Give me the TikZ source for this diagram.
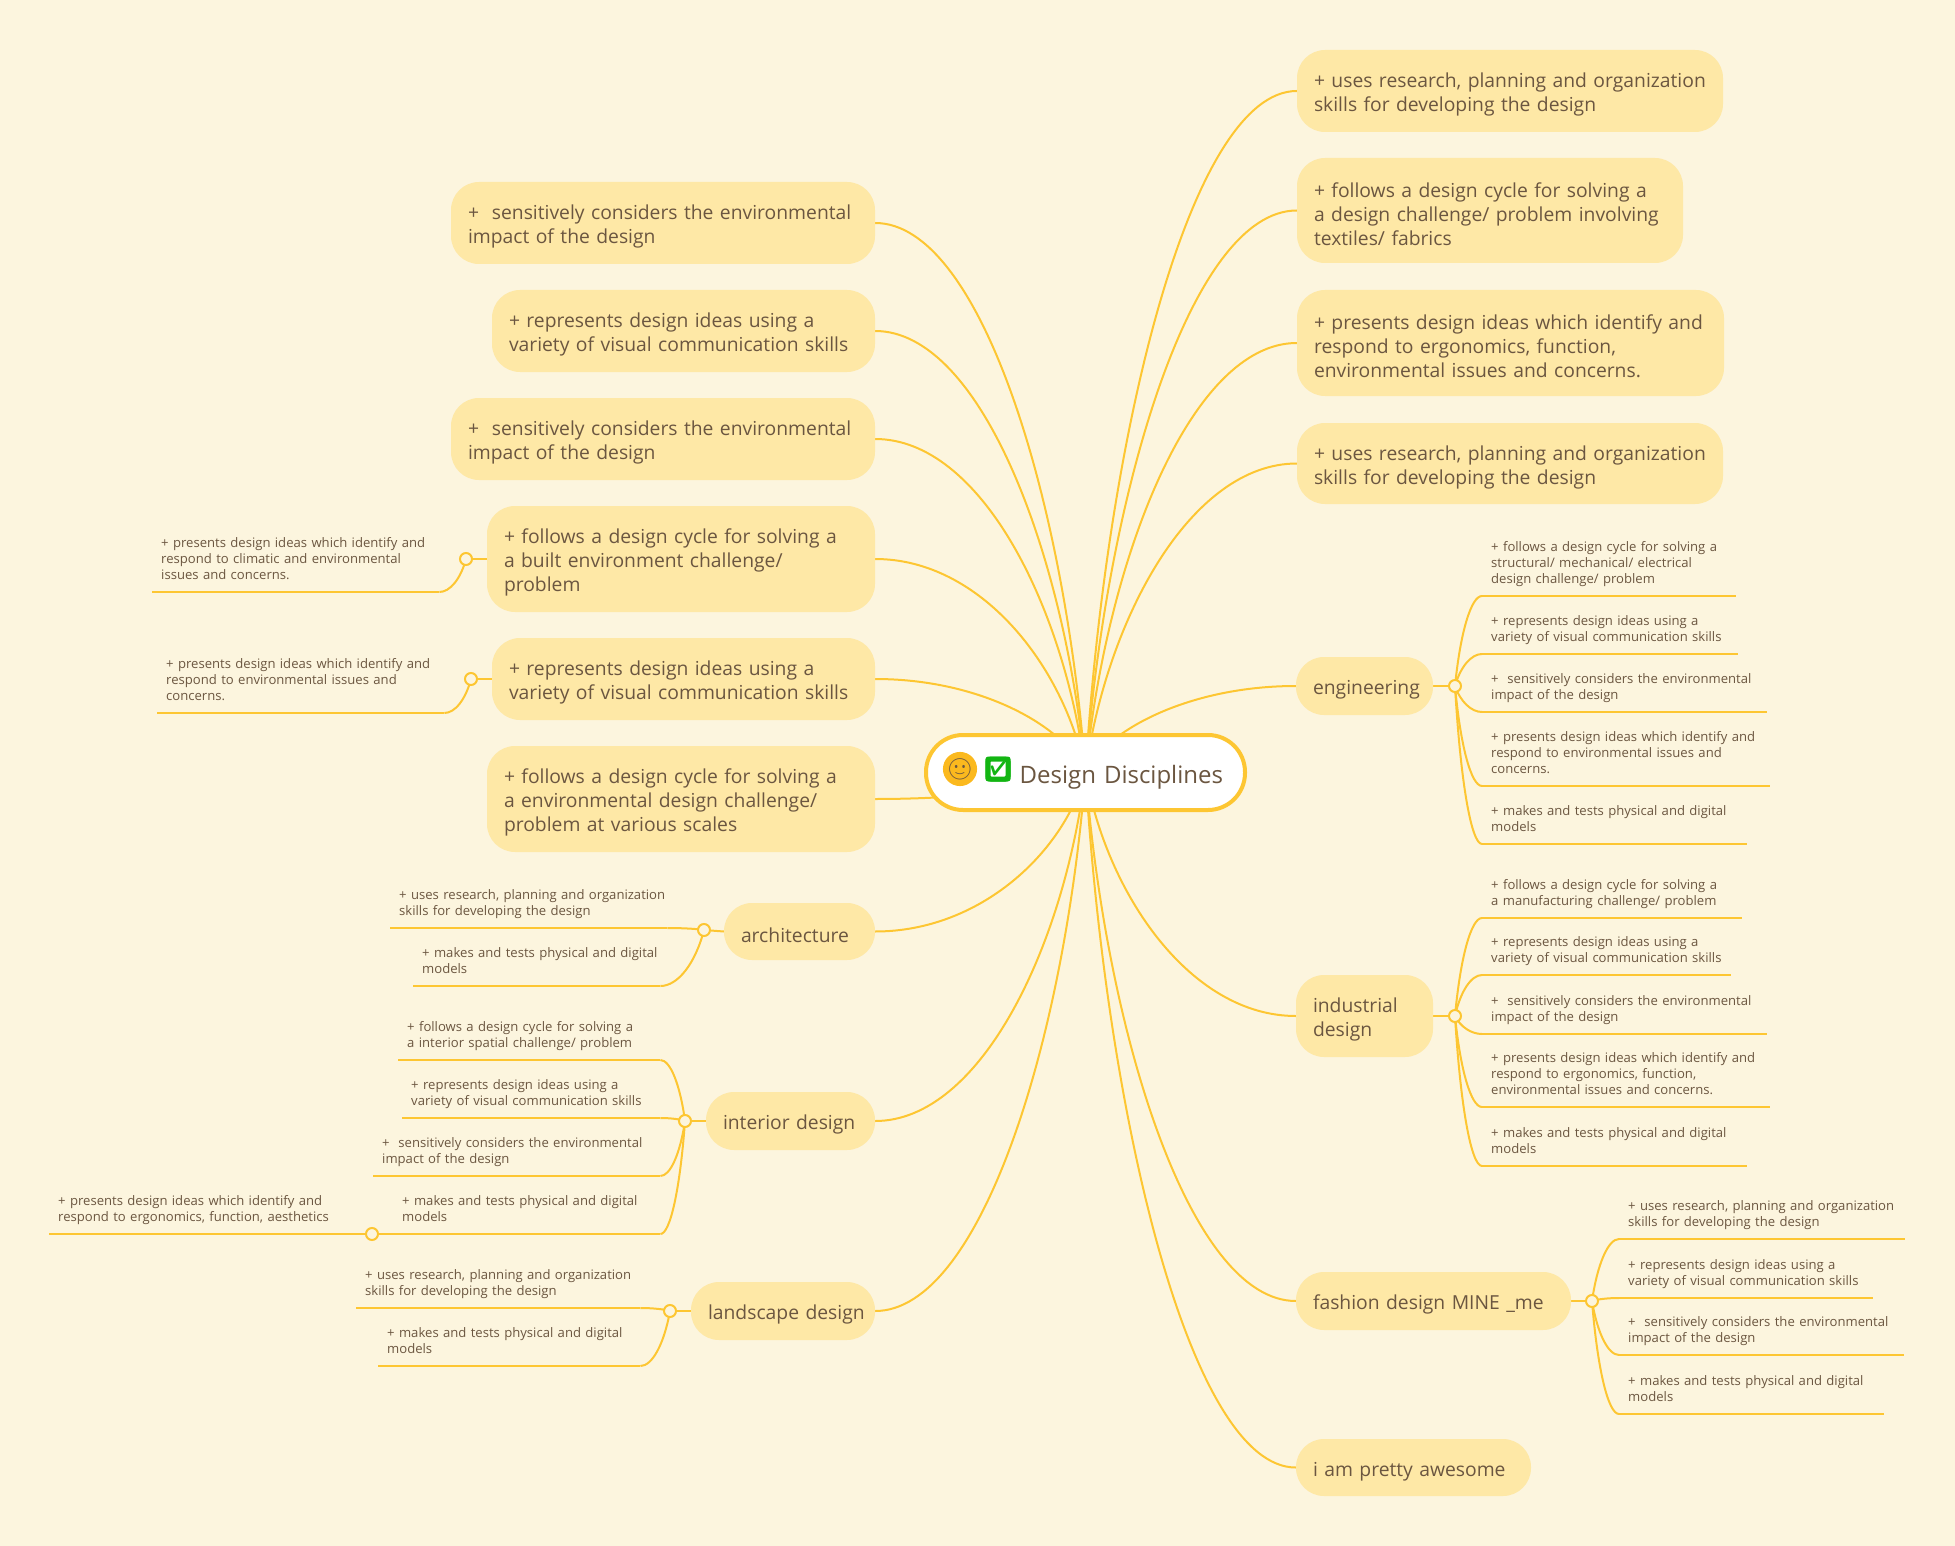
\documentclass[tikz,border=0pt]{standalone}
\usepackage{fontspec}
\setmainfont{Open Sans}
\newfontfamily\emojifont{Noto Emoji}
\usetikzlibrary{calc,backgrounds}
\definecolor{bgc}{HTML}{FCF5DE}
\definecolor{fillc}{HTML}{FEE8A6}
\definecolor{linec}{HTML}{FDC632}
\definecolor{textc}{HTML}{6B5640}
\definecolor{smilec}{HTML}{FBB91E}
\definecolor{checkc}{HTML}{12B512}
\tikzset{
  bignode/.style={fill=fillc,rounded corners=28pt,inner xsep=17pt,inner ysep=0pt,text=textc,align=left,
    font=\fontsize{19.3}{24}\selectfont},
  subnode/.style={anchor=south west,inner xsep=9pt,inner ysep=8pt,text=textc,align=left,
    font=\fontsize{13.1}{16}\selectfont},
  edge/.style={draw=linec,line width=2pt},
  rule/.style={draw=linec,line width=2pt},
  junc/.style={circle,draw=linec,line width=2pt,fill=bgc,minimum size=12pt,inner sep=0pt},
}
\newcommand{\bnode}[6]{\node[bignode,minimum width={#4-#2},minimum height={#5-#3},text width={#4-#2-34}] (#1) at ({(#2+#4)/2},{(#3+#5)/2}) {\rlap{\parbox{\dimexpr #4pt-#2pt\relax}{\raggedright\vspace{7.5pt}#6}}};}
\newcommand{\snode}[5]{\node[subnode,minimum width={#3-#2},text width={#3-#2-18}] (#1) at (#2,#4) {\rlap{\parbox{\dimexpr #3pt-#2pt\relax}{\raggedright #5\strut}}};
  \begin{pgfonlayer}{background}\draw[rule] (#1.south west) -- (#1.south east);\end{pgfonlayer}}
\newcommand{\conn}[5]{\begin{pgfonlayer}{background}\draw[edge] let \p1=(#1),\p2=(#2) in (\p1) .. controls ({\x1+#3*(\x2-\x1)},{\y1+#4*(\y2-\y1)}) and ({\x2-#5*(\x2-\x1)},{\y2}) .. (\p2);\end{pgfonlayer}}
\newcommand{\mainconn}[2]{\conn{#1}{#2}{0.1}{0.5}{0.5}}
\newcommand{\subconn}[2]{\conn{#1}{#2}{0.2}{0.6}{0.4}}
\newcommand{\straight}[2]{\begin{pgfonlayer}{background}\draw[edge] (#1) -- (#2);\end{pgfonlayer}}
\newcommand{\dsp}{+\ \ }
\begin{document}
\begin{tikzpicture}[x=1pt,y=-1pt]
\begin{pgfonlayer}{background}
\fill[bgc] (0,0) rectangle (1955,1546);
\end{pgfonlayer}
\useasboundingbox (0,0) rectangle (1955,1546);
% centre
\node[fill=white,draw=linec,line width=4pt,rounded corners=37pt,minimum width=319pt,minimum height=75pt,
  text width=275pt,inner xsep=22pt,align=right,text=textc,font=\fontsize{24}{30}\selectfont] (c) at (1085.5,772.5) {\rule{0pt}{28pt}Design Disciplines};
\node[circle,fill=smilec,minimum size=24pt,inner sep=0pt,text=textc,font=\emojifont\fontsize{21}{24}\selectfont] (smile) at (960,769) {🙂};
\node[fill=checkc,rounded corners=3pt,minimum size=25pt,inner sep=0pt,text=white,font=\emojifont\fontsize{20}{25}\selectfont] (check) at (998,769) {✅};
\draw[draw=checkc,line width=5pt,rounded corners=3pt] ($(check.center)+(-10,-10)$) rectangle ($(check.center)+(10,10)$);
% left main
\bnode{la}{451}{182}{875}{264}{\dsp sensitively considers the environmental\\impact of the design}
\bnode{lb}{492}{290}{875}{372}{+ represents design ideas using a\\variety of visual communication skills}
\bnode{lc}{451}{398}{875}{480}{\dsp sensitively considers the environmental\\impact of the design}
\bnode{ld}{487}{506}{875}{612}{+ follows a design cycle for solving a\\a built environment challenge/\\problem}
\bnode{le}{492}{638}{875}{720}{+ represents design ideas using a\\variety of visual communication skills}
\bnode{lf}{487}{746}{875}{852}{+ follows a design cycle for solving a\\a environmental design challenge/\\problem at various scales}
\bnode{arch}{724}{903}{875}{960}{architecture}
\bnode{inter}{706}{1092}{875}{1150}{interior design}
\bnode{land}{691}{1282}{875}{1340}{landscape design}
% right main
\bnode{ra}{1297}{50}{1723}{132}{+ uses research, planning and organization\\skills for developing the design}
\bnode{rb}{1297}{158}{1683}{263}{+ follows a design cycle for solving a\\a design challenge/ problem involving\\textiles/ fabrics}
\bnode{rc}{1297}{290}{1724}{396}{+ presents design ideas which identify and\\respond to ergonomics, function,\\environmental issues and concerns.}
\bnode{rd}{1297}{423}{1723}{504}{+ uses research, planning and organization\\skills for developing the design}
\bnode{eng}{1296}{657}{1433}{715}{engineering}
\bnode{ind}{1296}{975}{1433}{1057}{industrial\\design}
\bnode{fash}{1296}{1272}{1571}{1330}{fashion design MINE \_me}
\bnode{aw}{1296}{1439}{1531}{1496}{i am pretty awesome}
% main connectors
\mainconn{c.center}{la.east}\mainconn{c.center}{lb.east}\mainconn{c.center}{lc.east}
\mainconn{c.center}{ld.east}\mainconn{c.center}{le.east}\mainconn{c.center}{lf.east}
\mainconn{c.center}{arch.east}\mainconn{c.center}{inter.east}\mainconn{c.center}{land.east}
\mainconn{c.center}{ra.west}\mainconn{c.center}{rb.west}\mainconn{c.center}{rc.west}\mainconn{c.center}{rd.west}
\mainconn{c.center}{eng.west}\mainconn{c.center}{ind.west}\mainconn{c.center}{fash.west}\mainconn{c.center}{aw.west}
% engineering
\node[junc] (je) at (1455,686) {};
\straight{eng.east}{je}
\snode{ea}{1482}{1736}{596}{+ follows a design cycle for solving a\\structural/ mechanical/ electrical\\design challenge/ problem}
\snode{eb}{1482}{1738}{654}{+ represents design ideas using a\\variety of visual communication skills}
\snode{ec}{1482}{1767}{712}{\dsp sensitively considers the environmental\\impact of the design}
\snode{ed}{1482}{1770}{786}{+ presents design ideas which identify and\\respond to environmental issues and\\concerns.}
\snode{ee}{1482}{1747}{844}{+ makes and tests physical and digital\\models}
\subconn{je}{ea.south west}\subconn{je}{eb.south west}\subconn{je}{ec.south west}\subconn{je}{ed.south west}\subconn{je}{ee.south west}
% industrial
\node[junc] (ji) at (1455,1016) {};
\straight{ind.east}{ji}
\snode{ia}{1482}{1742}{918}{+ follows a design cycle for solving a\\a manufacturing challenge/ problem}
\snode{ib}{1482}{1731}{975}{+ represents design ideas using a\\variety of visual communication skills}
\snode{ic}{1482}{1767}{1034}{\dsp sensitively considers the environmental\\impact of the design}
\snode{id}{1482}{1770}{1107}{+ presents design ideas which identify and\\respond to ergonomics, function,\\environmental issues and concerns.}
\snode{ie}{1482}{1747}{1166}{+ makes and tests physical and digital\\models}
\subconn{ji}{ia.south west}\subconn{ji}{ib.south west}\subconn{ji}{ic.south west}\subconn{ji}{id.south west}\subconn{ji}{ie.south west}
% fashion
\node[junc] (jf) at (1592,1301) {};
\straight{fash.east}{jf}
\snode{fa}{1619}{1905}{1239}{+ uses research, planning and organization\\skills for developing the design}
\snode{fb}{1619}{1873}{1298}{+ represents design ideas using a\\variety of visual communication skills}
\snode{fc}{1619}{1904}{1355}{\dsp sensitively considers the environmental\\impact of the design}
\snode{fd}{1619}{1884}{1414}{+ makes and tests physical and digital\\models}
\subconn{jf}{fa.south west}\subconn{jf}{fb.south west}\subconn{jf}{fc.south west}\subconn{jf}{fd.south west}
% left subs
\node[junc] (jd) at (466,559) {};
\straight{ld.west}{jd}
\snode{da}{152}{439}{592}{+ presents design ideas which identify and\\respond to climatic and environmental\\issues and concerns.}
\subconn{jd}{da.south east}
\node[junc] (jl) at (471,679) {};
\straight{le.west}{jl}
\snode{ll}{157}{444}{713}{+ presents design ideas which identify and\\respond to environmental issues and\\concerns.}
\subconn{jl}{ll.south east}
% architecture
\node[junc] (ja) at (704,930) {};
\straight{arch.west}{ja}
\snode{aa}{390}{667}{928}{+ uses research, planning and organization\\skills for developing the design}
\snode{ab}{413}{660}{986}{+ makes and tests physical and digital\\models}
\subconn{ja}{aa.south east}\subconn{ja}{ab.south east}
% interior
\node[junc] (jn) at (685,1121) {};
\straight{inter.west}{jn}
\snode{na}{398}{660}{1060}{+ follows a design cycle for solving a\\a interior spatial challenge/ problem}
\snode{nb}{402}{660}{1118}{+ represents design ideas using a\\variety of visual communication skills}
\snode{nc}{373}{660}{1176}{\dsp sensitively considers the environmental\\impact of the design}
\snode{nd}{393}{660}{1234}{+ makes and tests physical and digital\\models}
\subconn{jn}{na.south east}\subconn{jn}{nb.south east}\subconn{jn}{nc.south east}\subconn{jn}{nd.south east}
\node[junc] (jp) at (372,1234) {};
\straight{jp}{nd.south west}
\snode{ne}{49}{366}{1234}{+ presents design ideas which identify and\\respond to ergonomics, function, aesthetics}
% landscape
\node[junc] (jc) at (670,1311) {};
\straight{land.west}{jc}
\snode{ca}{356}{640}{1308}{+ uses research, planning and organization\\skills for developing the design}
\snode{cb}{378}{640}{1366}{+ makes and tests physical and digital\\models}
\subconn{jc}{ca.south east}\subconn{jc}{cb.south east}
\end{tikzpicture}
\end{document}
